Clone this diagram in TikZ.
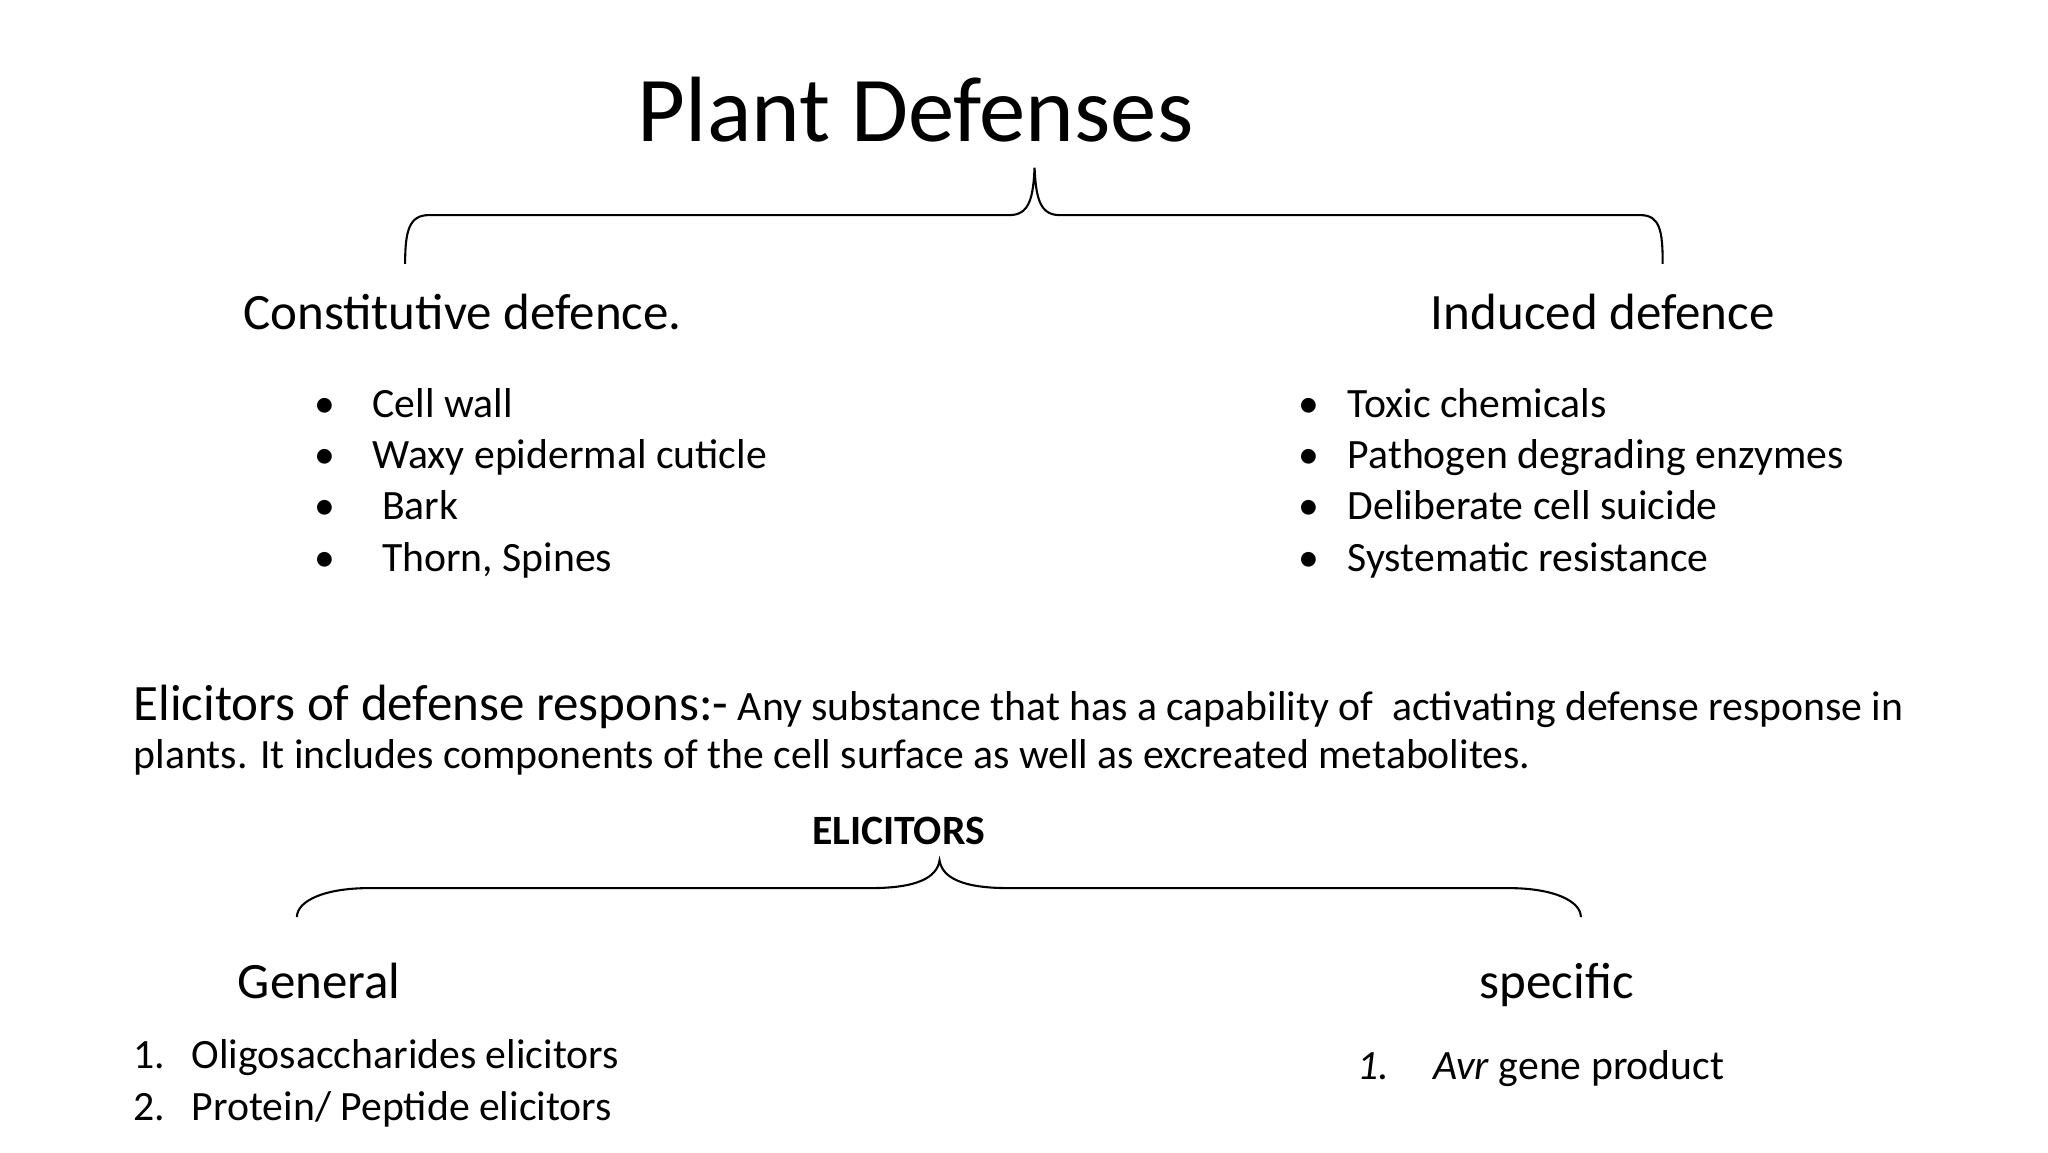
\documentclass[tikz,border=0pt]{standalone}
\usepackage{fontspec}
\setmainfont{Carlito}
\begin{document}
\begin{tikzpicture}[x=0.02cm,y=-0.02cm]
 \tikzstyle{txt}=[anchor=base west,inner sep=0pt,font=\fontsize{18}{20}\selectfont]
 \tikzstyle{head}=[anchor=base west,inner sep=0pt,font=\fontsize{22}{24}\selectfont]
 \tikzstyle{brace}=[line width=0.9pt]
 \useasboundingbox[fill=white] (0,0) rectangle (1552,873);
 % title and top brace
 \node[anchor=base west,inner sep=0pt,font=\fontsize{40}{44}\selectfont] (title) at (483,107) {Plant Defenses};
 \draw[brace] (307,200) .. controls (307,175) and (310,163) .. (325,163) -- (765,163)
   .. controls (780,163) and (783,150) .. (784,127)
   .. controls (785,150) and (788,163) .. (803,163) -- (1243,163)
   .. controls (1258,163) and (1260,175) .. (1260,200);
 \node[head] (cons) at (184,250) {Constitutive defence.};
 \node[head] (ind) at (1084,250) {Induced defence};
 % bullet lists
 \foreach \y/\t in {316/Cell wall,355/Waxy epidermal cuticle,394/\ Bark,433/\ Thorn{,} Spines} {
   \node[txt] at (238,\y) {•};
   \node[txt] at (282,\y) {\t};
 }
 \foreach \y/\t in {316/Toxic chemicals,355/Pathogen degrading enzymes,394/Deliberate cell suicide,433/Systematic resistance} {
   \node[txt] at (984,\y) {•};
   \node[txt] at (1021,\y) {\t};
 }
 % elicitors text
 \node[txt] (eli1) at (101,546) {{\fontsize{22}{24}\selectfont Elicitors of defense respons:-} Any substance that has a capability of\ \ activating defense response in};
 \node[txt] (eli2) at (101,582) {plants. It includes components of the cell surface as well as excreated metabolites.};
 \node[txt,font=\fontsize{18}{20}\selectfont\bfseries] (elic) at (615,640) {ELICITORS};
 \draw[brace] (225,695) .. controls (225,683) and (245,673) .. (280,673) -- (660,673)
   .. controls (695,673) and (710,665) .. (712,652)
   .. controls (714,665) and (729,673) .. (764,673) -- (1143,673)
   .. controls (1178,673) and (1198,683) .. (1198,695);
 \node[head] (gen) at (180,757) {General};
 \node[head] (spec) at (1121,757) {specific};
 \node[txt] at (101,810) {1.};
 \node[txt] (oli) at (145,810) {Oligosaccharides elicitors};
 \node[txt] at (101,849) {2.};
 \node[txt] (pro) at (145,849) {Protein/ Peptide elicitors};
 \node[txt] at (1028,818) {\itshape 1.};
 \node[txt] (avr) at (1086,818) {\textit{Avr} gene product};
\end{tikzpicture}
\end{document}
